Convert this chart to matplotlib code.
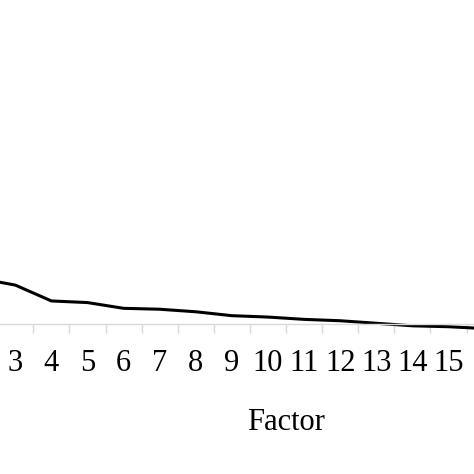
import matplotlib
matplotlib.use('Agg')
import matplotlib.pyplot as plt
import numpy as np

# scree plot data (factor number vs eigenvalue)
factors = list(range(1, 21))
eigenvalues = [6.0, 1.96, 1.67, 0.98, 0.91, 0.66, 0.62, 0.51, 0.34, 0.28,
               0.18, 0.12, 0.01, -0.10, -0.14, -0.22, -0.26, -0.30, -0.34, -0.38]
# only these labels are inside the cropped picture
shown_labels = list(range(3, 16))
x_title = 'Factor'

FIG_PX = 474
AXIS_GRAY = '#d9d9d9'
PX_PER_UNIT = 23.0

plt.rcParams['font.family'] = ['Liberation Serif', 'DejaVu Serif']

fig = plt.figure(figsize=(FIG_PX / 100, FIG_PX / 100), dpi=100)

# axes wider than the figure, the picture is a crop of a bigger chart
left_px = 15.3 - 2.5 * 36.1
width_px = 20 * 36.1
bottom_px = 94.8
height_px = FIG_PX - bottom_px
zero_px = FIG_PX - 323.5  # position of the zero line from the bottom
ax = fig.add_axes([left_px / FIG_PX, bottom_px / FIG_PX,
                   width_px / FIG_PX, height_px / FIG_PX])

ax.plot(factors, eigenvalues, color='black', linewidth=2.2,
        solid_joinstyle='round', clip_on=False)

ax.set_xlim(0.5, 20.5)
ax.set_ylim(-(zero_px - bottom_px) / PX_PER_UNIT,
            (FIG_PX - zero_px) / PX_PER_UNIT)

for side in ['left', 'right', 'top']:
    ax.spines[side].set_visible(False)
ax.spines['bottom'].set_position(('data', 0))
ax.spines['bottom'].set_color(AXIS_GRAY)
ax.spines['bottom'].set_linewidth(1.0)

ax.set_xticks(factors)
ax.set_xticklabels([str(f) if f in shown_labels else '' for f in factors])
ax.set_xticks(np.arange(0.5, 21, 1.0), minor=True)
ax.tick_params(axis='x', which='major', length=0, pad=18.5, labelsize=22)
ax.tick_params(axis='x', which='minor', length=6.3, width=1.0,
               color=AXIS_GRAY, direction='out')
ax.set_yticks([])

fig.text(286.5 / FIG_PX, 1 - 430 / FIG_PX, x_title, fontsize=22,
         ha='center', va='baseline')

fig.savefig('out.png', dpi=100, facecolor='white')
